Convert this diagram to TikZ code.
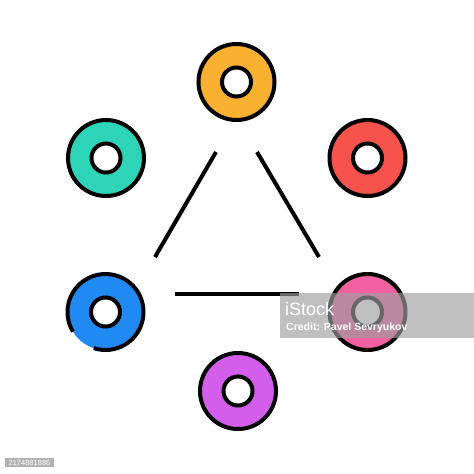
\documentclass[tikz,border=0pt]{standalone}
\usepackage{fontspec}
\setmainfont{Liberation Sans}
\begin{document}
\begin{tikzpicture}[x=1pt,y=-1pt,
  ringouter/.style={circle,draw=black,line width=4pt,minimum size=76pt,inner sep=0pt},
  ringhole/.style={circle,draw=black,fill=white,line width=4pt,minimum size=29pt,inner sep=0pt},
  edge/.style={draw=black,line width=4pt}]
\definecolor{cOrange}{HTML}{FAB12F}
\definecolor{cTeal}{HTML}{2DD4B8}
\definecolor{cRed}{HTML}{F5534B}
\definecolor{cBlue}{HTML}{1F8BF2}
\definecolor{cPink}{HTML}{F1609F}
\definecolor{cPurple}{HTML}{D45EEC}
\useasboundingbox[fill=white] (0,0) rectangle (474,474);
% rings
\node[ringouter,fill=cOrange] (orange) at (236.5,82) {};
\node[ringhole] (orangeh) at (orange.center) {};
\node[ringouter,fill=cTeal] (teal) at (106,158) {};
\node[ringhole] (tealh) at (teal.center) {};
\node[ringouter,fill=cRed] (red) at (367.5,158) {};
\node[ringhole] (redh) at (red.center) {};
\node[ringouter,fill=cPink] (pink) at (367.5,312) {};
\node[ringhole] (pinkh) at (pink.center) {};
\node[ringouter,fill=cPurple] (purple) at (238,391) {};
\node[ringhole] (purpleh) at (purple.center) {};
% blue ring with a gap in its outline
\node[circle,fill=cBlue,minimum size=76pt,inner sep=0pt] (blue) at (105.5,312) {};
\draw[black,line width=4pt] (blue.center) ++(149:38) arc[start angle=149,end angle=468,radius=38];
\node[ringhole] (blueh) at (blue.center) {};
% triangle
\coordinate (l1) at (216,152); \coordinate (l2) at (155,257);
\coordinate (r1) at (257,152); \coordinate (r2) at (319,257);
\coordinate (b1) at (175,294); \coordinate (b2) at (299,294);
\draw[edge] (l1) -- (l2);
\draw[edge] (r1) -- (r2);
\draw[edge] (b1) -- (b2);
% watermark
\fill[gray!75,opacity=0.65] (280,293) rectangle (474,338);
\node[anchor=base west,inner sep=0pt,text=white,font=\fontsize{18}{18}\selectfont] (istock) at (285,315) {iStock};
\node[anchor=base west,inner sep=0pt,text=white,font=\bfseries\fontsize{10.5}{11}\selectfont] (credit) at (286,330) {Credit: Pavel Sevryukov};
\fill[gray!60] (5,458) rectangle (54,467);
\node[anchor=center,inner sep=0pt,text=white,font=\fontsize{7.5}{8}\selectfont] (imgid) at (29.5,462.7) {2174881886};
\end{tikzpicture}
\end{document}
